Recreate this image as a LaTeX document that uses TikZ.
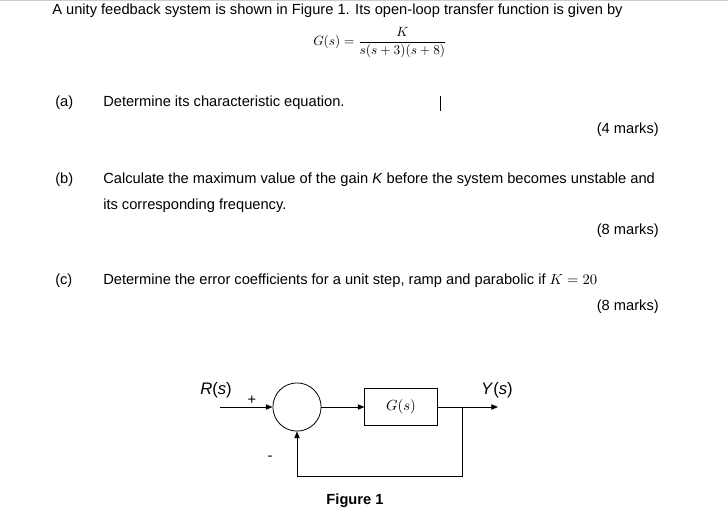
\documentclass[tikz,border=0pt]{standalone}
\usepackage{fontspec}
\setmainfont{Liberation Sans}
\usepackage{amsmath}
\usetikzlibrary{arrows.meta}
\begin{document}
\begin{tikzpicture}[x=0.75pt,y=-0.75pt,
  txt/.style={font=\fontsize{11}{13}\selectfont, inner sep=0pt},
  ln/.style={line width=0.6pt},
  arr/.style={ln,-{Triangle[length=5pt,width=4pt]}}]
\useasboundingbox (0,0) rectangle (728,526);
\fill[white] (0,0) rectangle (728,526);
\draw[gray!40, line width=1pt] (0,0.5) -- (728,0.5);
\node[txt,anchor=west] (t0) at (52,11) {A unity feedback system is shown in Figure 1. Its open-loop transfer function is given by};
\node[inner sep=0pt,font=\fontsize{10.3}{12}\selectfont] (eq) at (380,43) {$G(s)=\dfrac{K}{s(s+3)(s+8)}$};
\node[txt,anchor=west] (la) at (55,103) {(a)};
\node[txt,anchor=west] (ta) at (103,103) {Determine its characteristic equation.};
\draw[line width=0.6pt] (440,96) -- (440,111);
\node[txt,anchor=east] (ma) at (659,130) {(4 marks)};
\node[txt,anchor=west] (lb) at (55,180) {(b)};
\node[txt,anchor=west] (tb) at (103,180) {Calculate the maximum value of the gain \textit{K} before the system becomes unstable and};
\node[txt,anchor=west] (tb2) at (103,206) {its corresponding frequency.};
\node[txt,anchor=east] (mb) at (659,231) {(8 marks)};
\node[txt,anchor=west] (lc) at (55,281) {(c)};
\node[txt,anchor=west] (tc) at (103,281) {Determine the error coefficients for a unit step, ramp and parabolic if $K=20$};
\node[txt,anchor=east] (mc) at (659,307) {(8 marks)};
% diagram
\coordinate (in) at (220,407);
\node[draw,circle,ln,minimum size=36bp,inner sep=0pt] (sum) at (297,407) {};
\node[draw,ln,minimum width=54bp,minimum height=28bp,inner sep=0pt,font=\fontfamily{lmr}\fontsize{10.5}{12}\selectfont] (G) at (401,407) {$G(s)$};
\coordinate (br) at (462,407);
\coordinate (out) at (498,407);
\coordinate (c1) at (462,476);
\coordinate (c2) at (297,476);
\draw[arr] (in) -- (sum);
\draw[arr] (sum) -- (G);
\draw[arr] (G) -- (out);
\draw[arr] (br) -- (c1) -- (c2) -- (sum);
\node[font=\fontsize{12.5}{14}\selectfont,inner sep=0pt] (R) at (216,390) {\textit{R}(\textit{s})};
\node[font=\fontsize{12.5}{14}\selectfont,inner sep=0pt] (Y) at (497,390) {\textit{Y}(\textit{s})};
\node[txt] (plus) at (252,400) {+};
\node[txt] (minus) at (270,458) {-};
\node[txt,font=\bfseries\fontsize{11}{13}\selectfont] (fig) at (355,501) {Figure 1};
\end{tikzpicture}
\end{document}
